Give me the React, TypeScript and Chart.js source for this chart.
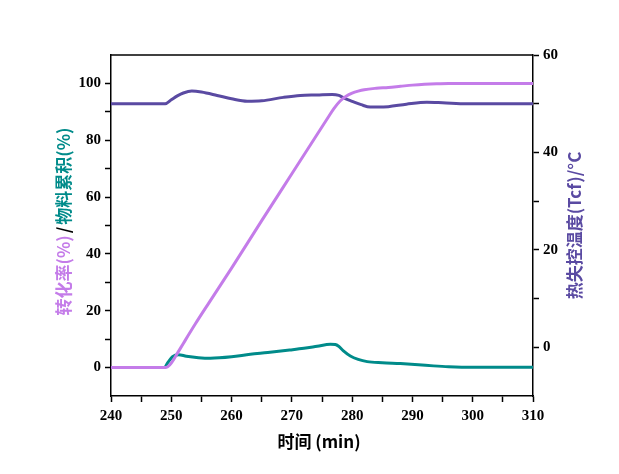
import React, { useEffect, useRef } from "react";
import { Chart, registerables } from "chart.js";

Chart.register(...registerables);

// ---- data ----
const convTime = [240, 249, 249.4, 250, 251, 252, 254, 256, 260, 265, 270, 274, 276, 277, 278, 279, 280, 281, 282, 284, 286, 288, 290, 292, 294, 296, 300, 310];
const convVal = [0, 0, 0.3, 1.6, 5.0, 8.5, 15.4, 22, 35, 51.7, 68.2, 81.4, 88, 91.2, 93.8, 95.5, 96.6, 97.3, 97.8, 98.3, 98.6, 99, 99.4, 99.7, 99.9, 100, 100, 100];

const tempTime = [240, 249, 250, 251, 252, 253.4, 255, 257.6, 260, 262.6, 265, 268.6, 271.4, 274.2, 276.7, 277.8, 278.6, 280, 281.5, 283, 284.5, 286, 289, 292.4, 295, 299, 305, 310];
const tempVal = [50, 50, 50.8, 51.6, 52.2, 52.6, 52.4, 51.7, 51.0, 50.5, 50.6, 51.3, 51.7, 51.8, 51.9, 51.7, 51.2, 50.5, 49.8, 49.3, 49.3, 49.4, 49.9, 50.3, 50.2, 50.0, 50.0, 50.0];

const accTime = [240, 248.8, 249.5, 250.2, 251.2, 252.5, 254.5, 256.5, 260, 263.1, 266, 269.7, 272, 274.2, 276.4, 277.2, 277.7, 278.5, 279.7, 281, 282.5, 285, 288, 291, 293.5, 296, 300, 310];
const accVal = [0, 0, 2.0, 3.8, 4.5, 4.0, 3.5, 3.3, 3.8, 4.7, 5.3, 6.2, 6.8, 7.5, 8.2, 8.1, 7.6, 6.0, 4.1, 2.9, 2.1, 1.7, 1.4, 1.0, 0.6, 0.3, 0.1, 0.1];

const xTitle = "时间 (min)";
const leftTitleA = "转化率(%)";
const leftTitleSep = "/";
const leftTitleB = "物料累积(%)";
const rightTitle = "热失控温度(Tcf)/°C";

const C_CONV = "#c47ce9";
const C_TEMP = "#5a4aa2";
const C_ACC = "#008b8a";

const toXY = (xs: number[], ys: number[]) => xs.map((x, i) => ({ x, y: ys[i] }));

const titlePlugin = {
  id: "customTitles",
  afterDraw(chart: any) {
    const ctx = chart.ctx;
    const ca = chart.chartArea;
    ctx.save();
    // top frame line
    ctx.strokeStyle = "#000";
    ctx.lineWidth = 1.5;
    ctx.beginPath();
    ctx.moveTo(ca.left, ca.top);
    ctx.lineTo(ca.right, ca.top);
    ctx.stroke();

    const font = "bold 17px 'Noto Sans CJK SC', 'Noto Sans', sans-serif";
    ctx.font = font;
    ctx.textBaseline = "middle";
    // x title
    ctx.fillStyle = "#000";
    ctx.textAlign = "center";
    ctx.fillText(xTitle, 319, 442);

    // left title (mixed colors)
    const cy = (ca.top + ca.bottom) / 2;
    ctx.save();
    ctx.translate(64, cy - 4);
    ctx.rotate(-Math.PI / 2);
    ctx.textAlign = "left";
    const wA = ctx.measureText(leftTitleA).width;
    const wS = ctx.measureText(leftTitleSep).width;
    const wB = ctx.measureText(leftTitleB).width;
    const gap = 2;
    let x0 = -(wA + wS + wB + gap * 2) / 2;
    ctx.fillStyle = C_CONV;
    ctx.fillText(leftTitleA, x0, 0);
    x0 += wA + gap;
    ctx.fillStyle = "#000";
    ctx.fillText(leftTitleSep, x0, 0);
    x0 += wS + gap;
    ctx.fillStyle = C_ACC;
    ctx.fillText(leftTitleB, x0, 0);
    ctx.restore();

    // right title
    ctx.save();
    ctx.translate(575, cy);
    ctx.rotate(-Math.PI / 2);
    ctx.textAlign = "center";
    ctx.fillStyle = C_TEMP;
    ctx.fillText(rightTitle, 0, 0);
    ctx.restore();

    ctx.restore();
  },
};

export default function App() {
  const ref = useRef<HTMLCanvasElement>(null);
  useEffect(() => {
    if (!ref.current) return;
    const tickFont = { family: "'Liberation Serif', 'Times New Roman', serif", size: 15, weight: "bold" as const };
    const gridCommon = {
      drawOnChartArea: false,
      drawTicks: true,
      tickLength: 6,
      tickColor: "#000",
      tickWidth: 1.5,
    };
    const chart = new Chart(ref.current, {
      type: "line",
      data: {
        datasets: [
          {
            data: toXY(convTime, convVal),
            yAxisID: "y",
            borderColor: C_CONV,
            borderWidth: 3,
            pointRadius: 0,
            cubicInterpolationMode: "monotone",
          },
          {
            data: toXY(accTime, accVal),
            yAxisID: "y",
            borderColor: C_ACC,
            borderWidth: 3,
            pointRadius: 0,
            cubicInterpolationMode: "monotone",
          },
          {
            data: toXY(tempTime, tempVal),
            yAxisID: "y2",
            borderColor: C_TEMP,
            borderWidth: 3,
            pointRadius: 0,
            cubicInterpolationMode: "monotone",
          },
        ],
      },
      options: {
        responsive: false,
        devicePixelRatio: 1,
        animation: false,
        layout: { padding: { top: 55, left: 0, right: 0, bottom: 0 } },
        plugins: { legend: { display: false }, tooltip: { enabled: false } },
        scales: {
          x: {
            type: "linear",
            min: 240,
            max: 310,
            grid: gridCommon,
            border: { color: "#000", width: 1.5 },
            ticks: {
              stepSize: 5,
              padding: 5,
              color: "#000",
              font: tickFont,
              maxRotation: 0,
              autoSkip: false,
              callback: (v: any) => (Number(v) % 10 === 0 ? String(v) : ""),
            },
            afterFit: (s: any) => {
              s.height = 78;
            },
          },
          y: {
            type: "linear",
            position: "left",
            min: -10,
            max: 110,
            grid: gridCommon,
            border: { color: "#000", width: 1.5 },
            ticks: {
              stepSize: 10,
              padding: 4,
              color: "#000",
              font: tickFont,
              autoSkip: false,
              callback: (v: any) => (Number(v) % 20 === 0 ? String(v) : ""),
            },
            afterBuildTicks: (s: any) => {
              s.ticks = s.ticks.filter((t: any) => t.value >= 0 && t.value <= 100);
            },
            afterFit: (s: any) => {
              s.width = 111;
            },
          },
          y2: {
            type: "linear",
            position: "right",
            min: -10,
            max: 60,
            grid: gridCommon,
            border: { color: "#000", width: 1.5 },
            ticks: {
              stepSize: 10,
              padding: 4,
              color: "#000",
              font: tickFont,
              autoSkip: false,
              callback: (v: any) => (Number(v) % 20 === 0 ? String(v) : ""),
            },
            afterBuildTicks: (s: any) => {
              s.ticks = s.ticks.filter((t: any) => t.value >= 0);
            },
            afterFit: (s: any) => {
              s.width = 86;
            },
          },
        },
      },
      plugins: [titlePlugin],
    } as any);
    return () => chart.destroy();
  }, []);
  return (
    <div style={{ position: "absolute", left: 0, top: 0, width: 619, height: 474 }}>
      <canvas ref={ref} width={619} height={474} />
    </div>
  );
}
